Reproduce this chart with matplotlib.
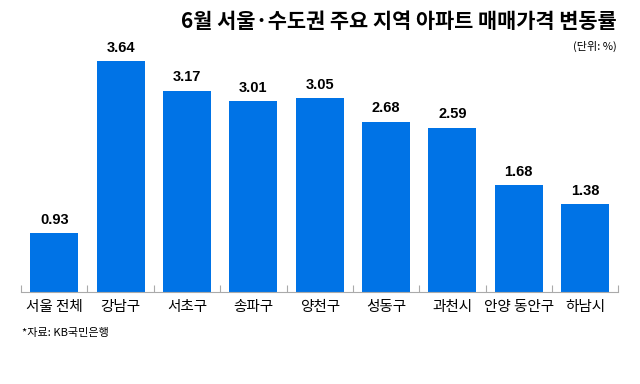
import matplotlib
matplotlib.use("Agg")
import matplotlib.pyplot as plt

plt.rcParams['font.family'] = ['Noto Sans CJK KR', 'DejaVu Sans']

# 데이터
regions = ["서울 전체", "강남구", "서초구", "송파구", "양천구", "성동구", "과천시", "안양 동안구", "하남시"]
changes = [0.93, 3.64, 3.17, 3.01, 3.05, 2.68, 2.59, 1.68, 1.38]

fig = plt.figure(figsize=(6.4, 3.84), dpi=100)
ax = fig.add_axes([0.033, 0.2396, 0.933, 0.6614])

x = range(len(regions))
bars = ax.bar(x, changes, width=0.72, color="#0073E6")

for b, v in zip(bars, changes):
    ax.text(b.get_x() + b.get_width() / 2, v + 0.1, f"{v:.2f}",
            ha="center", va="bottom", fontsize=10.5, fontweight="bold",
            family=["Liberation Sans", "DejaVu Sans"])

ax.set_xlim(-0.5, len(regions) - 0.5)
ax.set_ylim(0, 4.0)
ax.set_yticks([])
for s in ["top", "right", "left"]:
    ax.spines[s].set_visible(False)
ax.spines["bottom"].set_color("#aaaaaa")
ax.spines["bottom"].set_linewidth(0.8)

# 구분선 틱
ax.set_xticks([i - 0.5 for i in range(len(regions) + 1)], minor=False)
ax.set_xticklabels([])
ax.tick_params(axis="x", direction="in", length=5, color="#aaaaaa", width=0.8)
for i, r in enumerate(regions):
    ax.text(i, -0.13, r, ha="center", va="top", fontsize=10.5)

fig.text(0.964, 0.945, "6월 서울·수도권 주요 지역 아파트 매매가격 변동률",
         ha="right", va="center", fontsize=15, fontweight="bold")
fig.text(0.964, 0.878, "(단위: %)", ha="right", va="center", fontsize=8)
fig.text(0.034, 0.132, "*자료: KB국민은행", ha="left", va="center", fontsize=8)

fig.savefig("out.png", dpi=100)
